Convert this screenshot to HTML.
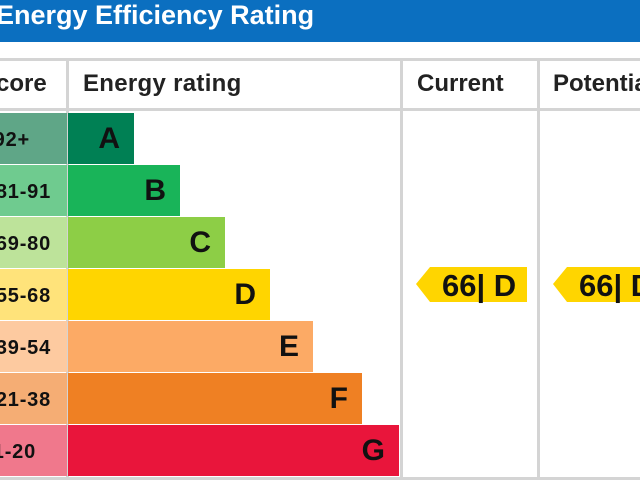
<!DOCTYPE html>
<html><head><meta charset="utf-8"><style>
body{margin:0;width:640px;height:480px;overflow:hidden;background:#fff;font-family:"Liberation Sans",sans-serif;position:relative}
.a{position:absolute}
</style></head><body>
<div class="a" style="left:0;top:0;width:640px;height:42px;background:#0b6fc0"></div>
<div class="a" style="left:-4px;top:-2px;color:#fff;font-size:27px;line-height:34px;font-weight:bold;white-space:nowrap">Energy Efficiency Rating</div>
<div id="grid"></div>
<div class="a" style="left:-4px;top:70px;font-size:24px;font-weight:bold;color:#222">core</div>
<div class="a" style="left:83px;top:70px;font-size:24px;font-weight:bold;color:#222;letter-spacing:0.3px">Energy rating</div>
<div class="a" style="left:417px;top:70px;font-size:24px;font-weight:bold;color:#222">Current</div>
<div class="a" style="left:553px;top:70px;font-size:24px;font-weight:bold;color:#222;white-space:nowrap">Potential</div>
<div id="bars"></div>
<script>
const bands=['A','B','C','D','E','F','G'];
const ranges=['92+','81-91','69-80','55-68','39-54','21-38','1-20'];
const mins=[92,81,69,55,39,21,1];
const colors=['#008054','#19b459','#8dce46','#ffd500','#fcaa65','#ef8023','#e9153b'];
const light=['#5fa687','#6fcb8f','#bde39a','#ffe37a','#fdcaa0','#f5ad74','#f0788c'];
const barRight=[134,180,225,270,313,362,399];
const textEnd=[30,51,51,51,51,51,36];
const currentScore=66, potentialScore=66;
const top0=113,rowH=52;
const bars=document.getElementById('bars');
function mk(parent){const d=document.createElement('div');d.className='a';parent.appendChild(d);return d;}
bands.forEach((b,i)=>{
  const y=top0+i*rowH;
  const s=mk(bars);
  
  
  s.style.cssText=`left:0;top:${y}px;width:67px;height:${rowH-1}px;background:${light[i]};`;
  const t=mk(bars);
  
  
  t.textContent=ranges[i];
  t.style.cssText=`left:${textEnd[i]-100}px;width:100px;text-align:right;top:${y+16}px;font-size:20px;font-weight:bold;color:#111;white-space:nowrap;letter-spacing:0.8px;`;
  const r=mk(bars);
  
  
  r.style.cssText=`left:68px;top:${y}px;width:${barRight[i]-68}px;height:${rowH-1}px;background:${colors[i]};`;
  const l=mk(bars);
  
  
  l.textContent=b;
  l.style.cssText=`left:68px;top:${y+9}px;width:${barRight[i]-68-14}px;text-align:right;font-size:30px;font-weight:bold;color:#111;`;
});
function bandOf(v){for(let i=0;i<mins.length;i++) if(v>=mins[i]) return i; return 6;}
function arrow(v,x,name){
  const i=bandOf(v), y=top0+i*rowH-2;
  const svg=document.createElementNS('http://www.w3.org/2000/svg','svg');
  
  
  svg.setAttribute('width','130');svg.setAttribute('height','40');
  svg.style.cssText=`position:absolute;left:${x}px;top:${y}px;overflow:visible`;
  svg.innerHTML=`<polygon points="0,17 14,0 111,0 111,35 14,35" fill="${colors[i]}"/><text x="26" y="29" font-family="Liberation Sans" font-weight="bold" font-size="31" fill="#111">${v}| ${bands[i]}</text>`;
  bars.appendChild(svg);
}
arrow(currentScore,416,'current-rating-arrow');
arrow(potentialScore,553,'potential-rating-arrow');
const g=document.getElementById('grid');
[[0,58,640,3],[0,108,640,3],[0,477,640,3],[66,58,3,422],[400,58,3,422],[537,58,3,422]].forEach((d,k)=>{
  const e=mk(g);
  
  
  e.style.cssText=`left:${d[0]}px;top:${d[1]}px;width:${d[2]}px;height:${d[3]}px;background:#d4d4d4;`;
});
</script>
</body></html>
